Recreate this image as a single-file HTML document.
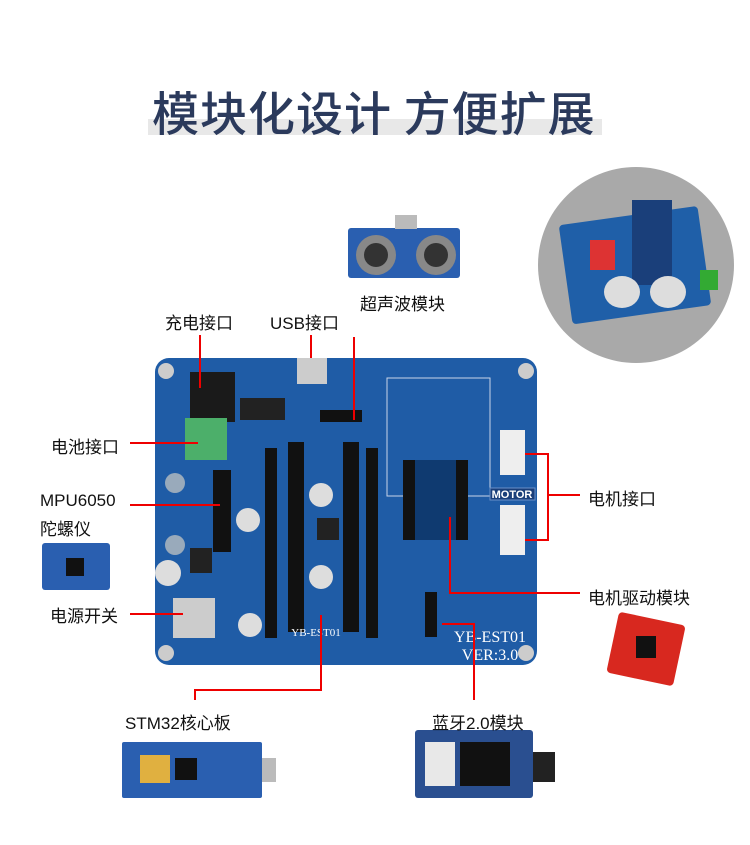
<!DOCTYPE html>
<html><head><meta charset="utf-8"><style>
body{margin:0;background:#fff;width:750px;height:845px;overflow:hidden;position:relative;font-family:"Liberation Sans","Noto Sans CJK SC",sans-serif}
.t{position:absolute;font-size:17px;color:#111;white-space:nowrap}
</style></head><body>
<div style="position:absolute;left:148px;top:119px;width:454px;height:16px;background:#e8e8e8"></div>
<div style="position:absolute;left:152px;top:76px;font-size:47px;color:#2b3a5c;font-weight:500;letter-spacing:1px;white-space:nowrap;font-family:'Noto Sans CJK SC',sans-serif">模块化设计 方便扩展</div>

<svg width="750" height="845" style="position:absolute;left:0;top:0">
<circle cx="636" cy="265" r="98" fill="#a9a9a9"/>
<rect x="565" y="215" width="140" height="100" rx="4" fill="#1f5fa8" transform="rotate(-8 636 265)"/>
<rect x="632" y="200" width="40" height="85" fill="#1a3f7a"/>
<rect x="590" y="240" width="25" height="30" fill="#d33"/>
<ellipse cx="622" cy="292" rx="18" ry="16" fill="#ddd"/><ellipse cx="668" cy="292" rx="18" ry="16" fill="#ddd"/>
<rect x="700" y="270" width="18" height="20" fill="#3a3"/>
<rect x="348" y="228" width="112" height="50" rx="3" fill="#2a5fb0"/>
<circle cx="376" cy="255" r="20" fill="#888"/><circle cx="376" cy="255" r="12" fill="#333"/>
<circle cx="436" cy="255" r="20" fill="#888"/><circle cx="436" cy="255" r="12" fill="#333"/>
<rect x="395" y="215" width="22" height="14" fill="#bbb"/>
<rect x="155" y="358" width="382" height="307" rx="14" fill="#1f5ca6"/>
<g fill="#ccc"><circle cx="166" cy="371" r="8"/><circle cx="526" cy="371" r="8"/><circle cx="166" cy="653" r="8"/><circle cx="526" cy="653" r="8"/></g>
<rect x="190" y="372" width="45" height="50" fill="#1a1a1a"/>
<rect x="185" y="418" width="42" height="42" fill="#4caf6a"/>
<rect x="297" y="358" width="30" height="26" fill="#ccc"/>
<rect x="240" y="398" width="45" height="22" fill="#222"/>
<rect x="320" y="410" width="42" height="12" fill="#111"/>
<rect x="387" y="378" width="103" height="118" fill="none" stroke="#c8d4e8" stroke-width="1"/>
<rect x="265" y="448" width="12" height="190" fill="#111"/>
<rect x="288" y="442" width="16" height="190" fill="#111"/>
<rect x="343" y="442" width="16" height="190" fill="#111"/>
<rect x="366" y="448" width="12" height="190" fill="#111"/>
<rect x="403" y="460" width="65" height="80" fill="#0f3a70"/>
<rect x="403" y="460" width="12" height="80" fill="#111"/><rect x="456" y="460" width="12" height="80" fill="#111"/>
<rect x="500" y="430" width="25" height="45" fill="#eee"/>
<rect x="500" y="505" width="25" height="50" fill="#eee"/>
<rect x="490" y="488" width="45" height="12" fill="#1a3f7a" stroke="#6a8fc8" stroke-width="1"/>
<text x="512" y="498" font-size="11" fill="#fff" text-anchor="middle" font-weight="bold" font-family="Liberation Sans">MOTOR</text>
<rect x="213" y="470" width="18" height="82" fill="#111"/>
<rect x="173" y="598" width="42" height="40" fill="#ccc"/>
<rect x="425" y="592" width="12" height="45" fill="#111"/>
<circle cx="321" cy="495" r="12" fill="#ddd"/><circle cx="321" cy="577" r="12" fill="#ddd"/>
<circle cx="248" cy="520" r="12" fill="#ddd"/><circle cx="250" cy="625" r="12" fill="#ddd"/>
<circle cx="168" cy="573" r="13" fill="#ddd"/>
<circle cx="175" cy="545" r="10" fill="#9ab"/><circle cx="175" cy="483" r="10" fill="#9ab"/>
<rect x="190" y="548" width="22" height="25" fill="#222"/>
<rect x="317" y="518" width="22" height="22" fill="#222"/>
<text x="490" y="642" font-size="16" fill="#fff" font-family="Liberation Serif" text-anchor="middle">YB-EST01</text>
<text x="490" y="660" font-size="16" fill="#fff" font-family="Liberation Serif" text-anchor="middle">VER:3.0</text>
<text x="316" y="636" font-size="11" fill="#fff" font-family="Liberation Serif" text-anchor="middle">YB-EST01</text>
<g stroke="#e00" stroke-width="2" fill="none">
<path d="M200 335V388"/><path d="M311 335V358"/><path d="M354 337V420"/>
<path d="M130 443H198"/><path d="M130 505H220"/><path d="M130 614H183"/>
<path d="M525 454H548V540H525M548 495H580"/>
<path d="M450 517V593H580"/>
<path d="M321 615V690H195V700"/>
<path d="M442 624H474V700"/>
</g>
<rect x="42" y="543" width="68" height="47" rx="3" fill="#2a5fb0"/><rect x="66" y="558" width="18" height="18" fill="#111"/>
<rect x="612" y="618" width="68" height="62" rx="4" fill="#d8281f" transform="rotate(12 646 649)"/>
<rect x="636" y="636" width="20" height="22" fill="#111"/>
<rect x="122" y="742" width="140" height="56" rx="2" fill="#2a5fb0"/>
<rect x="140" y="755" width="30" height="28" fill="#e0b040"/><rect x="175" y="758" width="22" height="22" fill="#111"/>
<rect x="262" y="758" width="14" height="24" fill="#bbb"/>
<rect x="415" y="730" width="118" height="68" rx="3" fill="#2a4f90"/>
<rect x="460" y="742" width="50" height="44" fill="#111"/><rect x="425" y="742" width="30" height="44" fill="#e8e8e8"/>
<rect x="533" y="752" width="22" height="30" fill="#222"/>
</svg>

<div class="t" style="left:165px;top:309px">充电接口</div>
<div class="t" style="left:270px;top:309px">USB接口</div>
<div class="t" style="left:360px;top:290px">超声波模块</div>
<div class="t" style="left:51px;top:433px">电池接口</div>
<div class="t" style="left:40px;top:491px">MPU6050</div>
<div class="t" style="left:40px;top:515px">陀螺仪</div>
<div class="t" style="left:50px;top:602px">电源开关</div>
<div class="t" style="left:588px;top:485px">电机接口</div>
<div class="t" style="left:588px;top:584px">电机驱动模块</div>
<div class="t" style="left:125px;top:709px">STM32核心板</div>
<div class="t" style="left:432px;top:709px">蓝牙2.0模块</div>
</body></html>
